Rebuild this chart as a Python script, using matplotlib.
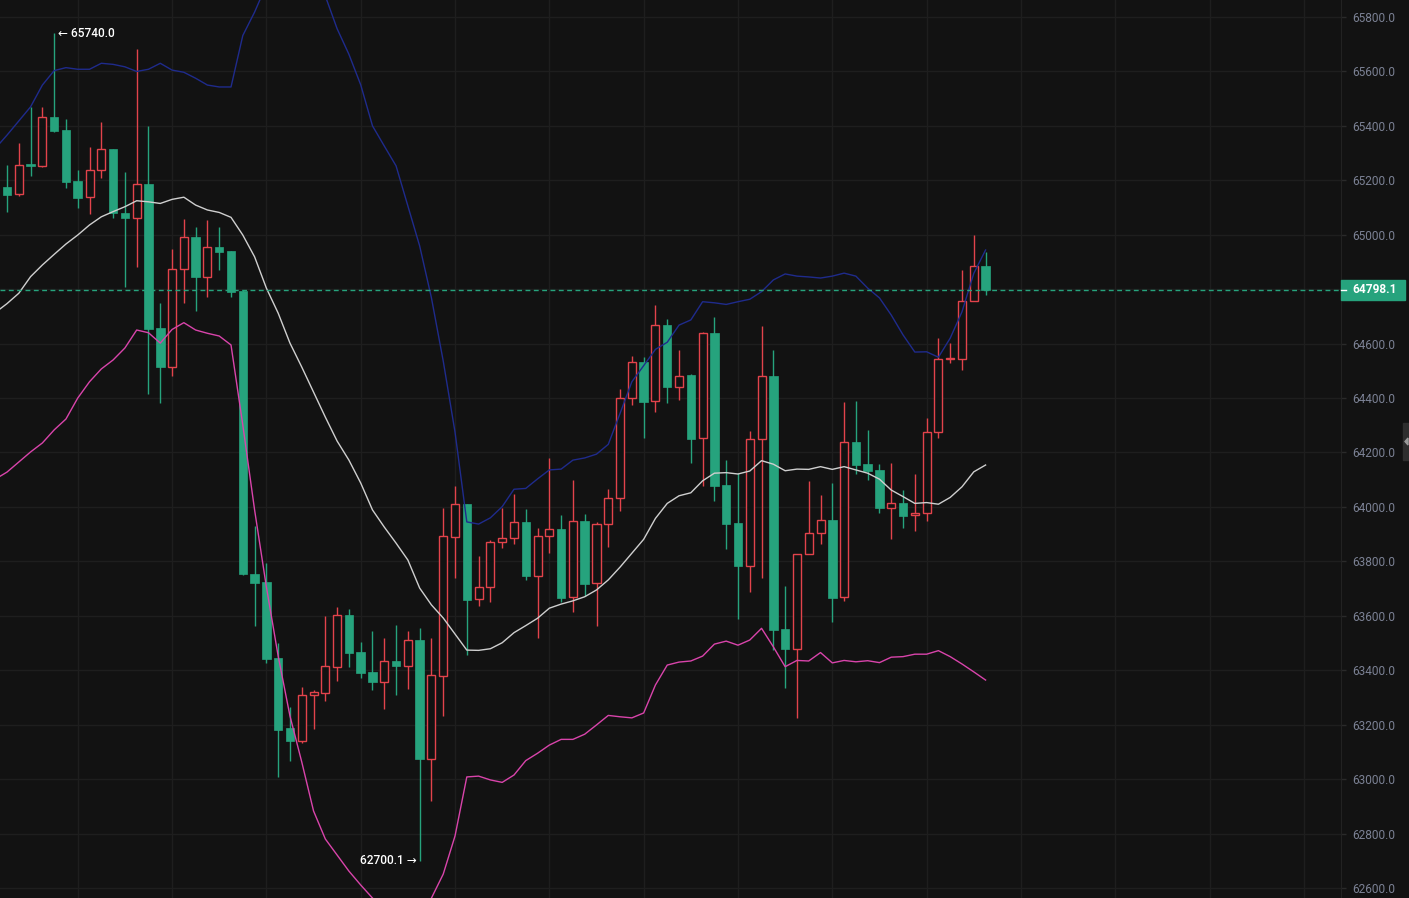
import matplotlib
matplotlib.use('Agg')
import matplotlib.pyplot as plt
from matplotlib.patches import Rectangle, Polygon
import numpy as np

# ---------------- data ----------------
opens = [65174, 65149, 65260, 65254, 65431, 65385, 65196, 65138, 65237, 65314,
         65080, 65063, 65185, 64657, 64515, 64873, 64991, 64846, 64954, 64939,
         64793, 63754, 63723, 63445, 63187, 63141, 63308, 63318, 63413, 63602,
         63466, 63392, 63358, 63434, 63417, 63511, 63075, 63380, 63891, 64011,
         63661, 63705, 63870, 63885, 63945, 63747, 63894, 63919, 63668, 63948,
         63719, 63936, 64032, 64399, 64532, 64388, 64668, 64442, 64484, 64252,
         64639, 64081, 63941, 63784, 64248, 64481, 63550, 63479, 63826, 63903,
         63952, 63669, 64239, 64158, 64136, 63995, 64014, 63969, 63977, 64274,
         64542, 64542, 64755, 64884]
highs = [65256, 65338, 65470, 65468, 65740, 65424, 65238, 65322, 65413, 65316,
         65229, 65681, 65400, 64748, 64946, 65058, 65030, 65054, 65028, 64941,
         64798, 63930, 63795, 63499, 63264, 63340, 63327, 63599, 63632, 63625,
         63505, 63544, 63517, 63565, 63544, 63554, 63517, 63996, 64077, 64012,
         63821, 63878, 63996, 64046, 63994, 63921, 64180, 63969, 64099, 63974,
         63946, 64065, 64433, 64554, 64552, 64742, 64689, 64575, 64487, 64644,
         64697, 64172, 64126, 64279, 64665, 64577, 63711, 63826, 64096, 64044,
         64087, 64384, 64390, 64283, 64158, 64161, 64063, 64120, 64326, 64620,
         64603, 64870, 64999, 64938]
lows = [65084, 65142, 65217, 65250, 65379, 65173, 65099, 65076, 65210, 65060,
        64809, 64880, 64415, 64383, 64482, 64750, 64720, 64772, 64870, 64770,
        63750, 63564, 63428, 63009, 63066, 63132, 63183, 63288, 63362, 63413,
        63370, 63327, 63256, 63310, 63332, 62700.1, 62921, 63233, 63740, 63457,
        63637, 63652, 63848, 63864, 63732, 63520, 63832, 63650, 63614, 63674,
        63561, 63854, 63985, 64373, 64252, 64350, 64381, 64393, 64162, 64078,
        64022, 63845, 63587, 63688, 63738, 63474, 63334, 63226, 63826, 63863,
        63578, 63654, 64121, 64099, 63977, 63881, 63921, 63912, 63949, 64254,
        64530, 64504, 64755, 64780]
closes = [65147, 65255, 65254, 65431, 65382, 65195, 65136, 65237, 65314, 65079,
          65063, 65185, 64655, 64515, 64873, 64991, 64846, 64954, 64938, 64791,
          63752, 63722, 63442, 63182, 63141, 63308, 63319, 63414, 63602, 63464,
          63391, 63358, 63433, 63417, 63510, 63075, 63381, 63892, 64010, 63658,
          63705, 63870, 63885, 63944, 63747, 63894, 63918, 63666, 63947, 63718,
          63936, 64032, 64399, 64531, 64387, 64667, 64442, 64482, 64251, 64638,
          64078, 63938, 63784, 64248, 64480, 63549, 63479, 63826, 63903, 63951,
          63666, 64237, 64155, 64133, 63997, 64013, 63968, 63977, 64274, 64542,
          64547, 64755, 64884, 64798.1]

# Bollinger bands: first value belongs to the bar just left of the visible window
bb_upper = [65317,
            65366, 65418, 65470, 65550, 65603, 65614, 65608, 65608, 65630, 65626,
            65617, 65600, 65608, 65630, 65605, 65597, 65575, 65550, 65543, 65543,
            65732, 65818, 65918, 66009, 66046, 66028, 65973, 65877, 65757, 65663,
            65551, 65400, 65326, 65253, 65106, 64959, 64768, 64536, 64275, 63945,
            63937, 63960, 64001, 64065, 64068, 64103, 64136, 64139, 64172, 64180,
            64194, 64230, 64344, 64460, 64519, 64579, 64605, 64668, 64687, 64754,
            64750, 64744, 64754, 64763, 64791, 64834, 64856, 64848, 64845, 64841,
            64848, 64859, 64848, 64804, 64768, 64705, 64632, 64569, 64570, 64550,
            64620, 64717, 64858, 64944]
bb_mid = [64714,
          64747, 64785, 64846, 64889, 64928, 64966, 64999, 65036, 65066, 65085,
          65103, 65125, 65121, 65115, 65130, 65138, 65109, 65091, 65082, 65064,
          64999, 64919, 64804, 64712, 64602, 64514, 64422, 64330, 64242, 64172,
          64088, 63989, 63926, 63867, 63805, 63702, 63640, 63592, 63533, 63474,
          63473, 63479, 63501, 63538, 63564, 63591, 63628, 63643, 63655, 63670,
          63695, 63732, 63779, 63830, 63881, 63958, 64013, 64041, 64052, 64096,
          64124, 64126, 64121, 64132, 64170, 64157, 64133, 64139, 64138, 64148,
          64138, 64148, 64136, 64124, 64102, 64062, 64038, 64013, 64016, 64010,
          64035, 64074, 64129, 64154]
bb_lower = [64102,
            64128, 64165, 64202, 64235, 64283, 64323, 64400, 64460, 64507, 64540,
            64584, 64650, 64640, 64602, 64652, 64677, 64650, 64638, 64628, 64595,
            64301, 63989, 63706, 63452, 63232, 63063, 62883, 62780, 62721, 62662,
            62611, 62563, 62526, 62501, 62490, 62512, 62563, 62651, 62791, 63008,
            63011, 62997, 62988, 63015, 63068, 63095, 63125, 63146, 63146, 63165,
            63199, 63234, 63229, 63225, 63243, 63346, 63419, 63430, 63434, 63452,
            63496, 63507, 63492, 63511, 63554, 63486, 63413, 63436, 63434, 63465,
            63427, 63436, 63431, 63435, 63428, 63448, 63450, 63459, 63459, 63472,
            63450, 63423, 63394, 63364]

y_ticks = list(range(62600, 65801, 200))
last_price = 64798.1
high_mark = 65740.0
low_mark = 62700.1

# ---------------- style ----------------
BG = '#121212'
GRID = '#1e1e1e'
GREEN = '#26a37d'
RED = '#e2434b'
UPPER_C = '#1f2b8c'
MID_C = '#cfcfcf'
LOWER_C = '#d944ab'
LABEL_C = '#7b8194'

W, H = 1409, 898
fig = plt.figure(figsize=(W / 100, H / 100), dpi=100)
fig.patch.set_facecolor(BG)
AX_RIGHT = 1341
ax = fig.add_axes([0, 0, AX_RIGHT / W, 1])
ax.set_facecolor(BG)

spacing = 11.79  # px per bar
first_px = 7
n = len(opens)
x = np.arange(n)
bx = np.arange(-1, n)
ax.set_xlim(-first_px / spacing, (AX_RIGHT - first_px) / spacing)
ax.set_ylim(62563.2, 65862.5)

# grid
ax.set_xticks(np.arange(6, 113, 8))
ax.set_yticks(y_ticks)
ax.grid(True, color=GRID, lw=1, zorder=0)
ax.set_axisbelow(True)
ax.tick_params(axis='x', length=0, labelbottom=False)
ax.yaxis.tick_right()
ax.set_yticklabels([f"{v:.1f}" for v in y_ticks], family=['Roboto', 'DejaVu Sans'])
ax.tick_params(axis='y', colors='#2a2a2a', labelcolor=LABEL_C, length=3.6,
               width=1, pad=4.3, labelsize=8.6, left=False)
for s in ['top', 'left', 'bottom']:
    ax.spines[s].set_visible(False)
ax.spines['right'].set_color('#222222')

# candles
o = np.array(opens, float)
c = np.array(closes, float)
hi = np.array(highs, float)
lo = np.array(lows, float)
up = c >= o
cols = np.where(up, RED, GREEN)
ax.vlines(x, lo, hi, colors=cols, lw=1.0, zorder=2)
bottom = np.minimum(o, c)
height = np.maximum(np.abs(c - o), 4)
ax.bar(x[~up], height[~up], bottom=bottom[~up], width=0.72, color=GREEN,
       edgecolor=GREEN, lw=0.5, zorder=3)
ax.bar(x[up], height[up], bottom=bottom[up], width=0.68, facecolor=BG,
       edgecolor=RED, lw=1.0, zorder=3)

# bollinger bands
ax.plot(bx, bb_upper, color=UPPER_C, lw=1.0, zorder=4)
ax.plot(bx, bb_mid, color=MID_C, lw=1.0, zorder=4)
ax.plot(bx, bb_lower, color=LOWER_C, lw=1.0, zorder=4)

# last price line
ax.axhline(last_price, color=GREEN, lw=1.0, dashes=(3.5, 2.5), zorder=5)

# high / low markers
fam = ['Roboto', 'DejaVu Sans']
i_hi = int(np.argmax(hi))
i_lo = int(np.argmin(lo))
ax.text(i_hi + 4 / spacing, high_mark, f"\u2190 {high_mark:.1f}", ha='left',
        va='center', color='white', fontsize=8.6, family=fam, weight='medium', zorder=6)
ax.text(i_lo - 3 / spacing, low_mark, f"{low_mark:.1f} \u2192", ha='right',
        va='center', color='white', fontsize=8.6, family=fam, weight='medium', zorder=6)

# price label box on the axis
fy = lambda py: 1 - py / H
fig.patches.append(Rectangle((AX_RIGHT / W, fy(299.5)), 64 / W, 20 / H,
                             transform=fig.transFigure, color=GREEN, zorder=10))
fig.lines.append(plt.Line2D([AX_RIGHT / W, (AX_RIGHT + 5) / W], [fy(289.5)] * 2,
                            transform=fig.transFigure, color='white', lw=1, zorder=11))
fig.text(1352 / W, fy(289.5), f"{last_price:.1f}", ha='left', va='center',
         color='white', fontsize=8.6, weight='bold', family=fam, zorder=12)

# small side tab at right edge
fig.patches.append(Rectangle((1403 / W, fy(460)), 6 / W, 37 / H,
                             transform=fig.transFigure, color='#2e2e2e', zorder=10))
fig.patches.append(Polygon([[1405 / W, fy(441.5)], [1408 / W, fy(438)], [1408 / W, fy(445)]],
                           closed=True, transform=fig.transFigure, color='#9a9a9a', zorder=11))

fig.savefig('out.png', dpi=100, facecolor=BG)
